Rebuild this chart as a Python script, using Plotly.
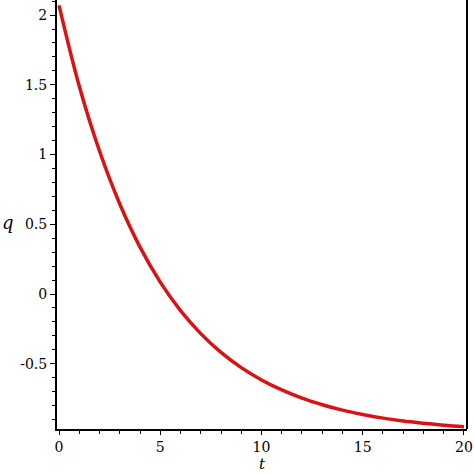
import plotly.graph_objects as go

t_vals = [0, 1, 2, 3, 4, 5, 6, 7, 8, 9, 10, 11, 12, 13, 14, 15, 16, 17, 18, 19, 20]
q_vals = [2.07, 1.49, 1.025, 0.645, 0.336, 0.085, -0.119, -0.284, -0.419, -0.528,
          -0.616, -0.688, -0.747, -0.794, -0.833, -0.864, -0.890, -0.911, -0.927,
          -0.941, -0.952]
x_ticks = [0, 5, 10, 15, 20]
y_ticks = [-0.5, 0, 0.5, 1, 1.5, 2]
y_tick_text = ["-0.5", "0", "0.5", "1", "1.5", "2"]

SERIF = "DejaVu Serif"

fig = go.Figure(go.Scatter(x=t_vals, y=q_vals, mode="lines",
                           line=dict(color="rgb(215,20,20)", width=3.5, shape="spline")))

font = dict(family=SERIF, size=14, color="black")
fig.update_layout(
    width=474, height=474,
    margin=dict(l=57, r=7, t=0, b=45),
    paper_bgcolor="white", plot_bgcolor="white",
    showlegend=False,
    font=font,
    xaxis=dict(range=[-0.1, 20.15], tickvals=x_ticks, ticks="outside", ticklen=4,
               tickwidth=1, tickcolor="black", showgrid=False, zeroline=False,
               showline=True, linecolor="black", linewidth=2, tickfont=font,
               minor=dict(dtick=1, ticks="outside", ticklen=3, tickcolor="black", tickwidth=1)),
    yaxis=dict(range=[-0.968, 2.108], tickvals=y_ticks, ticktext=y_tick_text,
               ticks="outside", ticklen=5, tickwidth=1, tickcolor="black", tickfont=font,
               showgrid=False, zeroline=False, showline=True, linecolor="black", linewidth=2,
               minor=dict(dtick=0.1, ticks="outside", ticklen=3, tickcolor="black", tickwidth=1)),
    shapes=[dict(type="line", xref="paper", yref="paper", x0=1, x1=1, y0=0, y1=1,
                 line=dict(color="black", width=2))],
    annotations=[
        dict(text="<i>q</i>", xref="paper", yref="paper", x=-57/410, y=(429-222)/429,
             xanchor="left", yanchor="middle", showarrow=False,
             font=dict(family=SERIF, size=18, color="black")),
        dict(text="<i>t</i>", xref="paper", yref="paper", x=(262-57)/410, y=-(474-429)/429,
             xanchor="center", yanchor="bottom", showarrow=False, borderpad=0,
             font=dict(family=SERIF, size=15, color="black")),
    ],
)
fig.write_html("out.html", config={"displayModeBar": False},
               post_script="document.body.style.margin='0px';document.body.style.overflow='hidden';")
